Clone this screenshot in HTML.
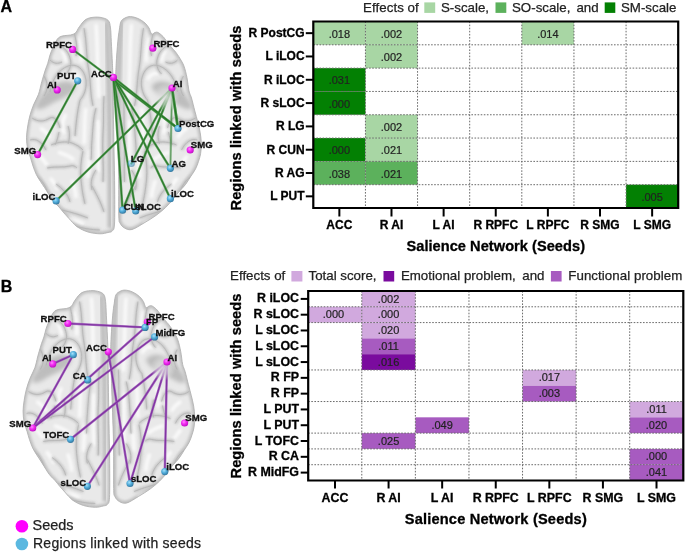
<!DOCTYPE html>
<html><head><meta charset="utf-8"><style>
html,body{margin:0;padding:0;background:#fff;}
svg{display:block;}
text{font-family:'Liberation Sans', Arial, sans-serif;}
.grid{stroke:#6a6a6a;stroke-width:1;stroke-dasharray:1.6 1.5;}
.val{font-size:11px;fill:#222;text-anchor:middle;stroke:#222;stroke-width:0.2px;}
.rl{font-size:12px;font-weight:bold;fill:#000;text-anchor:end;stroke:#000;stroke-width:0.3px;}
.cl{font-size:12px;font-weight:bold;fill:#000;text-anchor:middle;stroke:#000;stroke-width:0.3px;}
.ttl{font-size:14.6px;font-weight:bold;fill:#000;text-anchor:middle;stroke:#000;stroke-width:0.3px;}
.lg{font-size:13.3px;fill:#222;stroke:#222;stroke-width:0.25px;}
.nl{font-size:9.6px;font-weight:bold;fill:#111;stroke:#111;stroke-width:0.3px;}
.pl{font-size:16px;font-weight:bold;fill:#000;stroke:#000;stroke-width:0.3px;}
.bl{font-size:14px;fill:#222;stroke:#222;stroke-width:0.25px;}
</style></head><body>
<svg width="685" height="552" viewBox="0 0 685 552">
<defs>
<radialGradient id="bfill" cx="0.5" cy="0.5" r="0.6">
<stop offset="0" stop-color="#ececec"/><stop offset="0.7" stop-color="#e2e2e2"/><stop offset="1" stop-color="#cbcbcb"/>
</radialGradient>
<radialGradient id="mag" cx="0.4" cy="0.35" r="0.65">
<stop offset="0" stop-color="#ff8cff"/><stop offset="0.45" stop-color="#f42cf4"/><stop offset="1" stop-color="#c010c4"/>
</radialGradient>
<radialGradient id="blu" cx="0.4" cy="0.35" r="0.65">
<stop offset="0" stop-color="#a6e0f8"/><stop offset="0.5" stop-color="#52aedc"/><stop offset="1" stop-color="#3478a0"/>
</radialGradient>
<filter id="b3" x="-20%" y="-20%" width="140%" height="140%"><feGaussianBlur stdDeviation="3"/></filter>
<filter id="b15" x="-20%" y="-20%" width="140%" height="140%"><feGaussianBlur stdDeviation="1.5"/></filter>
<filter id="b2" x="-20%" y="-20%" width="140%" height="140%"><feGaussianBlur stdDeviation="2"/></filter>
<filter id="b12" x="-20%" y="-20%" width="140%" height="140%"><feGaussianBlur stdDeviation="1.2"/></filter>
<filter id="b06" x="-20%" y="-20%" width="140%" height="140%"><feGaussianBlur stdDeviation="0.6"/></filter>
<radialGradient id="fade" cx="0.5" cy="0.5" r="0.5"><stop offset="0" stop-color="#e4e4e4" stop-opacity="0.85"/><stop offset="0.55" stop-color="#e4e4e4" stop-opacity="0.55"/><stop offset="1" stop-color="#e4e4e4" stop-opacity="0"/></radialGradient>
</defs>
<rect width="685" height="552" fill="#fff"/>

<text x="0.4" y="11.8" class="pl">A</text>
<text x="0.8" y="292.3" class="pl">B</text>
<g transform="translate(0,0) translate(114,0) scale(1,1) translate(-114,0)">
<clipPath id="cla"><path d="M108.20,20.40 C106.45,18.62 102.87,17.77 100.00,17.30 C97.13,16.83 93.50,17.15 91.00,17.60 C88.50,18.05 86.67,18.85 85.00,20.00 C83.33,21.15 82.13,23.08 81.00,24.50 C79.87,25.92 79.12,27.08 78.20,28.50 C77.28,29.92 76.78,31.92 75.50,33.00 C74.22,34.08 72.33,34.57 70.50,35.00 C68.67,35.43 66.25,35.30 64.50,35.60 C62.75,35.90 61.25,36.15 60.00,36.80 C58.75,37.45 57.87,38.30 57.00,39.50 C56.13,40.70 55.57,42.42 54.80,44.00 C54.03,45.58 53.20,47.17 52.40,49.00 C51.60,50.83 50.78,52.58 50.00,55.00 C49.22,57.42 48.48,61.00 47.70,63.50 C46.92,66.00 46.03,67.83 45.30,70.00 C44.57,72.17 43.97,74.25 43.30,76.50 C42.63,78.75 42.10,80.53 41.30,83.50 C40.50,86.47 39.80,90.72 38.50,94.30 C37.20,97.88 34.95,101.38 33.50,105.00 C32.05,108.62 30.78,112.33 29.80,116.00 C28.82,119.67 28.15,123.37 27.60,127.00 C27.05,130.63 26.50,134.18 26.50,137.80 C26.50,141.42 26.92,145.33 27.60,148.70 C28.28,152.07 29.70,155.12 30.60,158.00 C31.50,160.88 32.05,163.25 33.00,166.00 C33.95,168.75 35.05,171.92 36.30,174.50 C37.55,177.08 39.13,179.33 40.50,181.50 C41.87,183.67 43.25,185.58 44.50,187.50 C45.75,189.42 46.78,191.08 48.00,193.00 C49.22,194.92 50.63,197.33 51.80,199.00 C52.97,200.67 53.80,201.67 55.00,203.00 C56.20,204.33 57.50,205.33 59.00,207.00 C60.50,208.67 62.33,211.08 64.00,213.00 C65.67,214.92 66.83,216.22 69.00,218.50 C71.17,220.78 73.83,224.45 77.00,226.70 C80.17,228.95 84.17,230.82 88.00,232.00 C91.83,233.18 96.67,233.72 100.00,233.80 C103.33,233.88 105.95,232.98 108.00,232.50 C110.05,232.02 111.22,232.32 112.30,230.90 C113.38,229.48 114.10,230.82 114.50,224.00 C114.90,217.18 114.78,202.33 114.70,190.00 C114.62,177.67 114.23,163.33 114.00,150.00 C113.77,136.67 113.47,121.67 113.30,110.00 C113.13,98.33 113.15,87.75 113.00,80.00 C112.85,72.25 112.68,69.88 112.40,63.50 C112.12,57.12 111.62,47.62 111.30,41.70 C110.98,35.78 111.02,31.55 110.50,28.00 C109.98,24.45 109.95,22.18 108.20,20.40 Z"/></clipPath><clipPath id="cra"><path d="M121.00,21.50 C121.95,19.50 123.43,18.82 125.00,18.00 C126.57,17.18 128.23,16.52 130.40,16.60 C132.57,16.68 135.57,17.43 138.00,18.50 C140.43,19.57 143.17,21.42 145.00,23.00 C146.83,24.58 147.90,26.17 149.00,28.00 C150.10,29.83 150.60,33.25 151.60,34.00 C152.60,34.75 153.93,32.75 155.00,32.50 C156.07,32.25 156.67,31.83 158.00,32.50 C159.33,33.17 161.27,34.65 163.00,36.50 C164.73,38.35 166.73,41.52 168.40,43.60 C170.07,45.68 171.83,47.65 173.00,49.00 C174.17,50.35 174.23,50.12 175.40,51.70 C176.57,53.28 178.57,56.08 180.00,58.50 C181.43,60.92 182.83,62.98 184.00,66.20 C185.17,69.42 186.17,73.68 187.00,77.80 C187.83,81.92 188.25,87.53 189.00,90.90 C189.75,94.27 190.53,94.67 191.50,98.00 C192.47,101.33 193.75,106.90 194.80,110.90 C195.85,114.90 196.90,118.38 197.80,122.00 C198.70,125.62 199.62,129.02 200.20,132.60 C200.78,136.18 201.23,139.98 201.30,143.50 C201.37,147.02 201.07,150.72 200.60,153.70 C200.13,156.68 199.35,158.85 198.50,161.40 C197.65,163.95 196.83,166.43 195.50,169.00 C194.17,171.57 192.17,174.22 190.50,176.80 C188.83,179.38 187.48,181.93 185.50,184.50 C183.52,187.07 180.78,189.62 178.60,192.20 C176.42,194.78 174.58,197.43 172.40,200.00 C170.22,202.57 168.20,205.05 165.50,207.60 C162.80,210.15 159.78,212.73 156.20,215.30 C152.62,217.87 148.03,220.63 144.00,223.00 C139.97,225.37 135.25,228.67 132.00,229.50 C128.75,230.33 126.50,229.08 124.50,228.00 C122.50,226.92 120.95,225.17 120.00,223.00 C119.05,220.83 119.03,223.83 118.80,215.00 C118.57,206.17 118.97,187.50 118.60,170.00 C118.23,152.50 117.07,125.00 116.60,110.00 C116.13,95.00 115.87,87.75 115.80,80.00 C115.73,72.25 115.87,69.88 116.20,63.50 C116.53,57.12 117.28,47.28 117.80,41.70 C118.32,36.12 118.77,33.37 119.30,30.00 C119.83,26.63 120.05,23.50 121.00,21.50 Z"/></clipPath>
<path d="M108.20,20.40 C106.45,18.62 102.87,17.77 100.00,17.30 C97.13,16.83 93.50,17.15 91.00,17.60 C88.50,18.05 86.67,18.85 85.00,20.00 C83.33,21.15 82.13,23.08 81.00,24.50 C79.87,25.92 79.12,27.08 78.20,28.50 C77.28,29.92 76.78,31.92 75.50,33.00 C74.22,34.08 72.33,34.57 70.50,35.00 C68.67,35.43 66.25,35.30 64.50,35.60 C62.75,35.90 61.25,36.15 60.00,36.80 C58.75,37.45 57.87,38.30 57.00,39.50 C56.13,40.70 55.57,42.42 54.80,44.00 C54.03,45.58 53.20,47.17 52.40,49.00 C51.60,50.83 50.78,52.58 50.00,55.00 C49.22,57.42 48.48,61.00 47.70,63.50 C46.92,66.00 46.03,67.83 45.30,70.00 C44.57,72.17 43.97,74.25 43.30,76.50 C42.63,78.75 42.10,80.53 41.30,83.50 C40.50,86.47 39.80,90.72 38.50,94.30 C37.20,97.88 34.95,101.38 33.50,105.00 C32.05,108.62 30.78,112.33 29.80,116.00 C28.82,119.67 28.15,123.37 27.60,127.00 C27.05,130.63 26.50,134.18 26.50,137.80 C26.50,141.42 26.92,145.33 27.60,148.70 C28.28,152.07 29.70,155.12 30.60,158.00 C31.50,160.88 32.05,163.25 33.00,166.00 C33.95,168.75 35.05,171.92 36.30,174.50 C37.55,177.08 39.13,179.33 40.50,181.50 C41.87,183.67 43.25,185.58 44.50,187.50 C45.75,189.42 46.78,191.08 48.00,193.00 C49.22,194.92 50.63,197.33 51.80,199.00 C52.97,200.67 53.80,201.67 55.00,203.00 C56.20,204.33 57.50,205.33 59.00,207.00 C60.50,208.67 62.33,211.08 64.00,213.00 C65.67,214.92 66.83,216.22 69.00,218.50 C71.17,220.78 73.83,224.45 77.00,226.70 C80.17,228.95 84.17,230.82 88.00,232.00 C91.83,233.18 96.67,233.72 100.00,233.80 C103.33,233.88 105.95,232.98 108.00,232.50 C110.05,232.02 111.22,232.32 112.30,230.90 C113.38,229.48 114.10,230.82 114.50,224.00 C114.90,217.18 114.78,202.33 114.70,190.00 C114.62,177.67 114.23,163.33 114.00,150.00 C113.77,136.67 113.47,121.67 113.30,110.00 C113.13,98.33 113.15,87.75 113.00,80.00 C112.85,72.25 112.68,69.88 112.40,63.50 C112.12,57.12 111.62,47.62 111.30,41.70 C110.98,35.78 111.02,31.55 110.50,28.00 C109.98,24.45 109.95,22.18 108.20,20.40 Z" fill="#e9e9e9"/>
<g clip-path="url(#cla)">
<path d="M108.20,20.40 C106.45,18.62 102.87,17.77 100.00,17.30 C97.13,16.83 93.50,17.15 91.00,17.60 C88.50,18.05 86.67,18.85 85.00,20.00 C83.33,21.15 82.13,23.08 81.00,24.50 C79.87,25.92 79.12,27.08 78.20,28.50 C77.28,29.92 76.78,31.92 75.50,33.00 C74.22,34.08 72.33,34.57 70.50,35.00 C68.67,35.43 66.25,35.30 64.50,35.60 C62.75,35.90 61.25,36.15 60.00,36.80 C58.75,37.45 57.87,38.30 57.00,39.50 C56.13,40.70 55.57,42.42 54.80,44.00 C54.03,45.58 53.20,47.17 52.40,49.00 C51.60,50.83 50.78,52.58 50.00,55.00 C49.22,57.42 48.48,61.00 47.70,63.50 C46.92,66.00 46.03,67.83 45.30,70.00 C44.57,72.17 43.97,74.25 43.30,76.50 C42.63,78.75 42.10,80.53 41.30,83.50 C40.50,86.47 39.80,90.72 38.50,94.30 C37.20,97.88 34.95,101.38 33.50,105.00 C32.05,108.62 30.78,112.33 29.80,116.00 C28.82,119.67 28.15,123.37 27.60,127.00 C27.05,130.63 26.50,134.18 26.50,137.80 C26.50,141.42 26.92,145.33 27.60,148.70 C28.28,152.07 29.70,155.12 30.60,158.00 C31.50,160.88 32.05,163.25 33.00,166.00 C33.95,168.75 35.05,171.92 36.30,174.50 C37.55,177.08 39.13,179.33 40.50,181.50 C41.87,183.67 43.25,185.58 44.50,187.50 C45.75,189.42 46.78,191.08 48.00,193.00 C49.22,194.92 50.63,197.33 51.80,199.00 C52.97,200.67 53.80,201.67 55.00,203.00 C56.20,204.33 57.50,205.33 59.00,207.00 C60.50,208.67 62.33,211.08 64.00,213.00 C65.67,214.92 66.83,216.22 69.00,218.50 C71.17,220.78 73.83,224.45 77.00,226.70 C80.17,228.95 84.17,230.82 88.00,232.00 C91.83,233.18 96.67,233.72 100.00,233.80 C103.33,233.88 105.95,232.98 108.00,232.50 C110.05,232.02 111.22,232.32 112.30,230.90 C113.38,229.48 114.10,230.82 114.50,224.00 C114.90,217.18 114.78,202.33 114.70,190.00 C114.62,177.67 114.23,163.33 114.00,150.00 C113.77,136.67 113.47,121.67 113.30,110.00 C113.13,98.33 113.15,87.75 113.00,80.00 C112.85,72.25 112.68,69.88 112.40,63.50 C112.12,57.12 111.62,47.62 111.30,41.70 C110.98,35.78 111.02,31.55 110.50,28.00 C109.98,24.45 109.95,22.18 108.20,20.40 Z" fill="none" stroke="#bcbcbc" stroke-width="4" filter="url(#b15)"/>
<g >
<path d="M35,108 C38,98 46,89 56,84 C63,80 72,80 76,86 C74,93 66,97 57,101 C48,105 42,112 35,108 Z" fill="#bdbdbd" filter="url(#b2)"/>
<path d="M106,22 C109,60 110,120 110,228" fill="none" stroke="#bfbfbf" stroke-width="5" filter="url(#b15)"/>
<g fill="none" stroke="#ffffff" stroke-width="3.2" opacity="0.85" filter="url(#b15)">
<path d="M96,24 C98,45 97,70 99,98"/>
<path d="M78,38 C80,46 82,54 81,62"/>
<path d="M62,50 C64,54 66,58 66,62"/>
<path d="M68,74 C72,72 78,74 80,80"/>
<path d="M86,108 C84,120 85,132 84,144"/>
<path d="M66,114 C62,120 62,128 64,134"/>
<path d="M40,128 C44,130 48,134 50,138"/>
<path d="M58,152 C64,154 70,156 74,160"/>
<path d="M40,156 C44,160 46,164 48,166"/>
<path d="M90,150 C89,160 88,170 88,178"/>
<path d="M50,178 C54,182 56,186 58,190"/>
<path d="M72,180 C74,186 76,192 76,198"/>
<path d="M68,218 C74,220 80,222 84,224"/>
<path d="M98,120 C99,140 98,160 99,172"/>
</g>
<g fill="none" stroke="#c2c2c2" stroke-width="3.4" opacity="0.85" filter="url(#b12)">
<path d="M84,28 C87,42 86,58 89,72 C91,84 90,94 93,106"/>
<path d="M74,32 C76,40 78,48 76,56"/>
<path d="M56,44 C62,46 68,50 70,58 C72,64 70,70 66,74"/>
<path d="M50,60 C54,64 58,64 62,62"/>
<path d="M50,92 C52,80 58,70 68,66 C76,63 84,68 86,80 C87,88 84,96 80,100"/>
<path d="M44,76 C48,82 48,90 44,96"/>
<path d="M80,100 C77,112 76,124 75,136"/>
<path d="M96,108 C93,118 93,128 92,140 C91,148 92,154 91,160"/>
<path d="M104,96 C103,110 104,122 103,134 C102,150 104,166 103,182"/>
<path d="M32,118 C38,122 44,122 50,118 C54,116 58,120 60,128"/>
<path d="M51,145 C58,142 66,141 72,143 C77,145 80,147 83,150"/>
<path d="M59,132 C58,137 57,141 55,145"/>
<path d="M30,140 C36,138 42,142 46,150"/>
<path d="M83,151 C81,160 80,170 81,180 C82,190 83,196 85,204"/>
<path d="M47,168 C55,166 63,168 70,166 C73,165 75,166 77,168"/>
<path d="M36,176 C42,180 46,186 48,194"/>
<path d="M56,184 C62,188 68,194 70,202"/>
<path d="M62,210 C70,212 78,214 88,218"/>
<path d="M92,186 C96,194 100,200 104,212"/>
<path d="M68,126 C70,132 70,138 68,144"/>
<path d="M96,170 C92,176 90,182 92,190"/>
<path d="M74,226 C82,228 92,230 100,230"/>
</g>
<g fill="none" stroke="#a9a9a9" stroke-width="0.9" opacity="0.6" filter="url(#b06)">
<path d="M84,28 C87,42 86,58 89,72 C91,84 90,94 93,106"/>
<path d="M74,32 C76,40 78,48 76,56"/>
<path d="M56,44 C62,46 68,50 70,58 C72,64 70,70 66,74"/>
<path d="M50,60 C54,64 58,64 62,62"/>
<path d="M50,92 C52,80 58,70 68,66 C76,63 84,68 86,80 C87,88 84,96 80,100"/>
<path d="M44,76 C48,82 48,90 44,96"/>
<path d="M80,100 C77,112 76,124 75,136"/>
<path d="M96,108 C93,118 93,128 92,140 C91,148 92,154 91,160"/>
<path d="M104,96 C103,110 104,122 103,134 C102,150 104,166 103,182"/>
<path d="M32,118 C38,122 44,122 50,118 C54,116 58,120 60,128"/>
<path d="M51,145 C58,142 66,141 72,143 C77,145 80,147 83,150"/>
<path d="M59,132 C58,137 57,141 55,145"/>
<path d="M30,140 C36,138 42,142 46,150"/>
<path d="M83,151 C81,160 80,170 81,180 C82,190 83,196 85,204"/>
<path d="M47,168 C55,166 63,168 70,166 C73,165 75,166 77,168"/>
<path d="M36,176 C42,180 46,186 48,194"/>
<path d="M56,184 C62,188 68,194 70,202"/>
<path d="M62,210 C70,212 78,214 88,218"/>
<path d="M92,186 C96,194 100,200 104,212"/>
<path d="M68,126 C70,132 70,138 68,144"/>
<path d="M96,170 C92,176 90,182 92,190"/>
<path d="M74,226 C82,228 92,230 100,230"/>
</g></g></g>
<path d="M108.20,20.40 C106.45,18.62 102.87,17.77 100.00,17.30 C97.13,16.83 93.50,17.15 91.00,17.60 C88.50,18.05 86.67,18.85 85.00,20.00 C83.33,21.15 82.13,23.08 81.00,24.50 C79.87,25.92 79.12,27.08 78.20,28.50 C77.28,29.92 76.78,31.92 75.50,33.00 C74.22,34.08 72.33,34.57 70.50,35.00 C68.67,35.43 66.25,35.30 64.50,35.60 C62.75,35.90 61.25,36.15 60.00,36.80 C58.75,37.45 57.87,38.30 57.00,39.50 C56.13,40.70 55.57,42.42 54.80,44.00 C54.03,45.58 53.20,47.17 52.40,49.00 C51.60,50.83 50.78,52.58 50.00,55.00 C49.22,57.42 48.48,61.00 47.70,63.50 C46.92,66.00 46.03,67.83 45.30,70.00 C44.57,72.17 43.97,74.25 43.30,76.50 C42.63,78.75 42.10,80.53 41.30,83.50 C40.50,86.47 39.80,90.72 38.50,94.30 C37.20,97.88 34.95,101.38 33.50,105.00 C32.05,108.62 30.78,112.33 29.80,116.00 C28.82,119.67 28.15,123.37 27.60,127.00 C27.05,130.63 26.50,134.18 26.50,137.80 C26.50,141.42 26.92,145.33 27.60,148.70 C28.28,152.07 29.70,155.12 30.60,158.00 C31.50,160.88 32.05,163.25 33.00,166.00 C33.95,168.75 35.05,171.92 36.30,174.50 C37.55,177.08 39.13,179.33 40.50,181.50 C41.87,183.67 43.25,185.58 44.50,187.50 C45.75,189.42 46.78,191.08 48.00,193.00 C49.22,194.92 50.63,197.33 51.80,199.00 C52.97,200.67 53.80,201.67 55.00,203.00 C56.20,204.33 57.50,205.33 59.00,207.00 C60.50,208.67 62.33,211.08 64.00,213.00 C65.67,214.92 66.83,216.22 69.00,218.50 C71.17,220.78 73.83,224.45 77.00,226.70 C80.17,228.95 84.17,230.82 88.00,232.00 C91.83,233.18 96.67,233.72 100.00,233.80 C103.33,233.88 105.95,232.98 108.00,232.50 C110.05,232.02 111.22,232.32 112.30,230.90 C113.38,229.48 114.10,230.82 114.50,224.00 C114.90,217.18 114.78,202.33 114.70,190.00 C114.62,177.67 114.23,163.33 114.00,150.00 C113.77,136.67 113.47,121.67 113.30,110.00 C113.13,98.33 113.15,87.75 113.00,80.00 C112.85,72.25 112.68,69.88 112.40,63.50 C112.12,57.12 111.62,47.62 111.30,41.70 C110.98,35.78 111.02,31.55 110.50,28.00 C109.98,24.45 109.95,22.18 108.20,20.40 Z" fill="none" stroke="#b4b4b4" stroke-width="0.9"/>
<path d="M121.00,21.50 C121.95,19.50 123.43,18.82 125.00,18.00 C126.57,17.18 128.23,16.52 130.40,16.60 C132.57,16.68 135.57,17.43 138.00,18.50 C140.43,19.57 143.17,21.42 145.00,23.00 C146.83,24.58 147.90,26.17 149.00,28.00 C150.10,29.83 150.60,33.25 151.60,34.00 C152.60,34.75 153.93,32.75 155.00,32.50 C156.07,32.25 156.67,31.83 158.00,32.50 C159.33,33.17 161.27,34.65 163.00,36.50 C164.73,38.35 166.73,41.52 168.40,43.60 C170.07,45.68 171.83,47.65 173.00,49.00 C174.17,50.35 174.23,50.12 175.40,51.70 C176.57,53.28 178.57,56.08 180.00,58.50 C181.43,60.92 182.83,62.98 184.00,66.20 C185.17,69.42 186.17,73.68 187.00,77.80 C187.83,81.92 188.25,87.53 189.00,90.90 C189.75,94.27 190.53,94.67 191.50,98.00 C192.47,101.33 193.75,106.90 194.80,110.90 C195.85,114.90 196.90,118.38 197.80,122.00 C198.70,125.62 199.62,129.02 200.20,132.60 C200.78,136.18 201.23,139.98 201.30,143.50 C201.37,147.02 201.07,150.72 200.60,153.70 C200.13,156.68 199.35,158.85 198.50,161.40 C197.65,163.95 196.83,166.43 195.50,169.00 C194.17,171.57 192.17,174.22 190.50,176.80 C188.83,179.38 187.48,181.93 185.50,184.50 C183.52,187.07 180.78,189.62 178.60,192.20 C176.42,194.78 174.58,197.43 172.40,200.00 C170.22,202.57 168.20,205.05 165.50,207.60 C162.80,210.15 159.78,212.73 156.20,215.30 C152.62,217.87 148.03,220.63 144.00,223.00 C139.97,225.37 135.25,228.67 132.00,229.50 C128.75,230.33 126.50,229.08 124.50,228.00 C122.50,226.92 120.95,225.17 120.00,223.00 C119.05,220.83 119.03,223.83 118.80,215.00 C118.57,206.17 118.97,187.50 118.60,170.00 C118.23,152.50 117.07,125.00 116.60,110.00 C116.13,95.00 115.87,87.75 115.80,80.00 C115.73,72.25 115.87,69.88 116.20,63.50 C116.53,57.12 117.28,47.28 117.80,41.70 C118.32,36.12 118.77,33.37 119.30,30.00 C119.83,26.63 120.05,23.50 121.00,21.50 Z" fill="#e9e9e9"/>
<g clip-path="url(#cra)">
<path d="M121.00,21.50 C121.95,19.50 123.43,18.82 125.00,18.00 C126.57,17.18 128.23,16.52 130.40,16.60 C132.57,16.68 135.57,17.43 138.00,18.50 C140.43,19.57 143.17,21.42 145.00,23.00 C146.83,24.58 147.90,26.17 149.00,28.00 C150.10,29.83 150.60,33.25 151.60,34.00 C152.60,34.75 153.93,32.75 155.00,32.50 C156.07,32.25 156.67,31.83 158.00,32.50 C159.33,33.17 161.27,34.65 163.00,36.50 C164.73,38.35 166.73,41.52 168.40,43.60 C170.07,45.68 171.83,47.65 173.00,49.00 C174.17,50.35 174.23,50.12 175.40,51.70 C176.57,53.28 178.57,56.08 180.00,58.50 C181.43,60.92 182.83,62.98 184.00,66.20 C185.17,69.42 186.17,73.68 187.00,77.80 C187.83,81.92 188.25,87.53 189.00,90.90 C189.75,94.27 190.53,94.67 191.50,98.00 C192.47,101.33 193.75,106.90 194.80,110.90 C195.85,114.90 196.90,118.38 197.80,122.00 C198.70,125.62 199.62,129.02 200.20,132.60 C200.78,136.18 201.23,139.98 201.30,143.50 C201.37,147.02 201.07,150.72 200.60,153.70 C200.13,156.68 199.35,158.85 198.50,161.40 C197.65,163.95 196.83,166.43 195.50,169.00 C194.17,171.57 192.17,174.22 190.50,176.80 C188.83,179.38 187.48,181.93 185.50,184.50 C183.52,187.07 180.78,189.62 178.60,192.20 C176.42,194.78 174.58,197.43 172.40,200.00 C170.22,202.57 168.20,205.05 165.50,207.60 C162.80,210.15 159.78,212.73 156.20,215.30 C152.62,217.87 148.03,220.63 144.00,223.00 C139.97,225.37 135.25,228.67 132.00,229.50 C128.75,230.33 126.50,229.08 124.50,228.00 C122.50,226.92 120.95,225.17 120.00,223.00 C119.05,220.83 119.03,223.83 118.80,215.00 C118.57,206.17 118.97,187.50 118.60,170.00 C118.23,152.50 117.07,125.00 116.60,110.00 C116.13,95.00 115.87,87.75 115.80,80.00 C115.73,72.25 115.87,69.88 116.20,63.50 C116.53,57.12 117.28,47.28 117.80,41.70 C118.32,36.12 118.77,33.37 119.30,30.00 C119.83,26.63 120.05,23.50 121.00,21.50 Z" fill="none" stroke="#bcbcbc" stroke-width="4" filter="url(#b15)"/>
<g transform="translate(227.5,0) scale(-1,1)">
<path d="M35,108 C38,98 46,89 56,84 C63,80 72,80 76,86 C74,93 66,97 57,101 C48,105 42,112 35,108 Z" fill="#bdbdbd" filter="url(#b2)"/>
<path d="M106,22 C109,60 110,120 110,228" fill="none" stroke="#bfbfbf" stroke-width="5" filter="url(#b15)"/>
<g fill="none" stroke="#ffffff" stroke-width="3.2" opacity="0.85" filter="url(#b15)">
<path d="M96,24 C98,45 97,70 99,98"/>
<path d="M78,38 C80,46 82,54 81,62"/>
<path d="M62,50 C64,54 66,58 66,62"/>
<path d="M68,74 C72,72 78,74 80,80"/>
<path d="M86,108 C84,120 85,132 84,144"/>
<path d="M66,114 C62,120 62,128 64,134"/>
<path d="M40,128 C44,130 48,134 50,138"/>
<path d="M58,152 C64,154 70,156 74,160"/>
<path d="M40,156 C44,160 46,164 48,166"/>
<path d="M90,150 C89,160 88,170 88,178"/>
<path d="M50,178 C54,182 56,186 58,190"/>
<path d="M72,180 C74,186 76,192 76,198"/>
<path d="M68,218 C74,220 80,222 84,224"/>
<path d="M98,120 C99,140 98,160 99,172"/>
</g>
<g fill="none" stroke="#c2c2c2" stroke-width="3.4" opacity="0.85" filter="url(#b12)">
<path d="M84,28 C87,42 86,58 89,72 C91,84 90,94 93,106"/>
<path d="M74,32 C76,40 78,48 76,56"/>
<path d="M56,44 C62,46 68,50 70,58 C72,64 70,70 66,74"/>
<path d="M50,60 C54,64 58,64 62,62"/>
<path d="M50,92 C52,80 58,70 68,66 C76,63 84,68 86,80 C87,88 84,96 80,100"/>
<path d="M44,76 C48,82 48,90 44,96"/>
<path d="M80,100 C77,112 76,124 75,136"/>
<path d="M96,108 C93,118 93,128 92,140 C91,148 92,154 91,160"/>
<path d="M104,96 C103,110 104,122 103,134 C102,150 104,166 103,182"/>
<path d="M32,118 C38,122 44,122 50,118 C54,116 58,120 60,128"/>
<path d="M51,145 C58,142 66,141 72,143 C77,145 80,147 83,150"/>
<path d="M59,132 C58,137 57,141 55,145"/>
<path d="M30,140 C36,138 42,142 46,150"/>
<path d="M83,151 C81,160 80,170 81,180 C82,190 83,196 85,204"/>
<path d="M47,168 C55,166 63,168 70,166 C73,165 75,166 77,168"/>
<path d="M36,176 C42,180 46,186 48,194"/>
<path d="M56,184 C62,188 68,194 70,202"/>
<path d="M62,210 C70,212 78,214 88,218"/>
<path d="M92,186 C96,194 100,200 104,212"/>
<path d="M68,126 C70,132 70,138 68,144"/>
<path d="M96,170 C92,176 90,182 92,190"/>
<path d="M74,226 C82,228 92,230 100,230"/>
</g>
<g fill="none" stroke="#a9a9a9" stroke-width="0.9" opacity="0.6" filter="url(#b06)">
<path d="M84,28 C87,42 86,58 89,72 C91,84 90,94 93,106"/>
<path d="M74,32 C76,40 78,48 76,56"/>
<path d="M56,44 C62,46 68,50 70,58 C72,64 70,70 66,74"/>
<path d="M50,60 C54,64 58,64 62,62"/>
<path d="M50,92 C52,80 58,70 68,66 C76,63 84,68 86,80 C87,88 84,96 80,100"/>
<path d="M44,76 C48,82 48,90 44,96"/>
<path d="M80,100 C77,112 76,124 75,136"/>
<path d="M96,108 C93,118 93,128 92,140 C91,148 92,154 91,160"/>
<path d="M104,96 C103,110 104,122 103,134 C102,150 104,166 103,182"/>
<path d="M32,118 C38,122 44,122 50,118 C54,116 58,120 60,128"/>
<path d="M51,145 C58,142 66,141 72,143 C77,145 80,147 83,150"/>
<path d="M59,132 C58,137 57,141 55,145"/>
<path d="M30,140 C36,138 42,142 46,150"/>
<path d="M83,151 C81,160 80,170 81,180 C82,190 83,196 85,204"/>
<path d="M47,168 C55,166 63,168 70,166 C73,165 75,166 77,168"/>
<path d="M36,176 C42,180 46,186 48,194"/>
<path d="M56,184 C62,188 68,194 70,202"/>
<path d="M62,210 C70,212 78,214 88,218"/>
<path d="M92,186 C96,194 100,200 104,212"/>
<path d="M68,126 C70,132 70,138 68,144"/>
<path d="M96,170 C92,176 90,182 92,190"/>
<path d="M74,226 C82,228 92,230 100,230"/>
</g></g></g>
<path d="M121.00,21.50 C121.95,19.50 123.43,18.82 125.00,18.00 C126.57,17.18 128.23,16.52 130.40,16.60 C132.57,16.68 135.57,17.43 138.00,18.50 C140.43,19.57 143.17,21.42 145.00,23.00 C146.83,24.58 147.90,26.17 149.00,28.00 C150.10,29.83 150.60,33.25 151.60,34.00 C152.60,34.75 153.93,32.75 155.00,32.50 C156.07,32.25 156.67,31.83 158.00,32.50 C159.33,33.17 161.27,34.65 163.00,36.50 C164.73,38.35 166.73,41.52 168.40,43.60 C170.07,45.68 171.83,47.65 173.00,49.00 C174.17,50.35 174.23,50.12 175.40,51.70 C176.57,53.28 178.57,56.08 180.00,58.50 C181.43,60.92 182.83,62.98 184.00,66.20 C185.17,69.42 186.17,73.68 187.00,77.80 C187.83,81.92 188.25,87.53 189.00,90.90 C189.75,94.27 190.53,94.67 191.50,98.00 C192.47,101.33 193.75,106.90 194.80,110.90 C195.85,114.90 196.90,118.38 197.80,122.00 C198.70,125.62 199.62,129.02 200.20,132.60 C200.78,136.18 201.23,139.98 201.30,143.50 C201.37,147.02 201.07,150.72 200.60,153.70 C200.13,156.68 199.35,158.85 198.50,161.40 C197.65,163.95 196.83,166.43 195.50,169.00 C194.17,171.57 192.17,174.22 190.50,176.80 C188.83,179.38 187.48,181.93 185.50,184.50 C183.52,187.07 180.78,189.62 178.60,192.20 C176.42,194.78 174.58,197.43 172.40,200.00 C170.22,202.57 168.20,205.05 165.50,207.60 C162.80,210.15 159.78,212.73 156.20,215.30 C152.62,217.87 148.03,220.63 144.00,223.00 C139.97,225.37 135.25,228.67 132.00,229.50 C128.75,230.33 126.50,229.08 124.50,228.00 C122.50,226.92 120.95,225.17 120.00,223.00 C119.05,220.83 119.03,223.83 118.80,215.00 C118.57,206.17 118.97,187.50 118.60,170.00 C118.23,152.50 117.07,125.00 116.60,110.00 C116.13,95.00 115.87,87.75 115.80,80.00 C115.73,72.25 115.87,69.88 116.20,63.50 C116.53,57.12 117.28,47.28 117.80,41.70 C118.32,36.12 118.77,33.37 119.30,30.00 C119.83,26.63 120.05,23.50 121.00,21.50 Z" fill="none" stroke="#b4b4b4" stroke-width="0.9"/>
</g>
<line x1="72.6" y1="49.4" x2="178.0" y2="128.5" stroke="#459545" stroke-width="2.4" stroke-linecap="round" opacity="0.82"/>
<line x1="72.6" y1="49.4" x2="178.0" y2="128.5" stroke="#1f6f1f" stroke-width="1.1" stroke-linecap="round" opacity="0.82"/>
<line x1="113.4" y1="77.4" x2="178.0" y2="128.5" stroke="#459545" stroke-width="2.4" stroke-linecap="round" opacity="0.82"/>
<line x1="113.4" y1="77.4" x2="178.0" y2="128.5" stroke="#1f6f1f" stroke-width="1.1" stroke-linecap="round" opacity="0.82"/>
<line x1="172.0" y1="88.0" x2="178.0" y2="128.5" stroke="#459545" stroke-width="2.4" stroke-linecap="round" opacity="0.82"/>
<line x1="172.0" y1="88.0" x2="178.0" y2="128.5" stroke="#1f6f1f" stroke-width="1.1" stroke-linecap="round" opacity="0.82"/>
<line x1="172.0" y1="88.0" x2="56.1" y2="200.9" stroke="#459545" stroke-width="2.4" stroke-linecap="round" opacity="0.82"/>
<line x1="172.0" y1="88.0" x2="56.1" y2="200.9" stroke="#1f6f1f" stroke-width="1.1" stroke-linecap="round" opacity="0.82"/>
<line x1="113.4" y1="77.4" x2="170.4" y2="198.7" stroke="#459545" stroke-width="2.4" stroke-linecap="round" opacity="0.82"/>
<line x1="113.4" y1="77.4" x2="170.4" y2="198.7" stroke="#1f6f1f" stroke-width="1.1" stroke-linecap="round" opacity="0.82"/>
<line x1="113.4" y1="77.4" x2="135.7" y2="210.9" stroke="#459545" stroke-width="2.4" stroke-linecap="round" opacity="0.82"/>
<line x1="113.4" y1="77.4" x2="135.7" y2="210.9" stroke="#1f6f1f" stroke-width="1.1" stroke-linecap="round" opacity="0.82"/>
<line x1="172.0" y1="88.0" x2="131.3" y2="163.5" stroke="#459545" stroke-width="2.4" stroke-linecap="round" opacity="0.82"/>
<line x1="172.0" y1="88.0" x2="131.3" y2="163.5" stroke="#1f6f1f" stroke-width="1.1" stroke-linecap="round" opacity="0.82"/>
<line x1="113.4" y1="77.4" x2="122.6" y2="210.2" stroke="#459545" stroke-width="2.4" stroke-linecap="round" opacity="0.82"/>
<line x1="113.4" y1="77.4" x2="122.6" y2="210.2" stroke="#1f6f1f" stroke-width="1.1" stroke-linecap="round" opacity="0.82"/>
<line x1="172.0" y1="88.0" x2="122.6" y2="210.2" stroke="#459545" stroke-width="2.4" stroke-linecap="round" opacity="0.82"/>
<line x1="172.0" y1="88.0" x2="122.6" y2="210.2" stroke="#1f6f1f" stroke-width="1.1" stroke-linecap="round" opacity="0.82"/>
<line x1="113.4" y1="77.4" x2="170.4" y2="168.3" stroke="#459545" stroke-width="2.4" stroke-linecap="round" opacity="0.82"/>
<line x1="113.4" y1="77.4" x2="170.4" y2="168.3" stroke="#1f6f1f" stroke-width="1.1" stroke-linecap="round" opacity="0.82"/>
<line x1="172.0" y1="88.0" x2="170.4" y2="168.3" stroke="#459545" stroke-width="2.4" stroke-linecap="round" opacity="0.45"/>
<line x1="172.0" y1="88.0" x2="170.4" y2="168.3" stroke="#1f6f1f" stroke-width="1.1" stroke-linecap="round" opacity="0.45"/>
<line x1="37.6" y1="154.6" x2="77.7" y2="80.8" stroke="#459545" stroke-width="2.4" stroke-linecap="round" opacity="0.82"/>
<line x1="37.6" y1="154.6" x2="77.7" y2="80.8" stroke="#1f6f1f" stroke-width="1.1" stroke-linecap="round" opacity="0.82"/>
<circle cx="166.0" cy="97.0" r="14.0" fill="url(#fade)"/>
<line x1="172.0" y1="88.0" x2="178.0" y2="128.5" stroke="#459545" stroke-width="2.8" stroke-linecap="round" opacity="0.82"/>
<line x1="172.0" y1="88.0" x2="178.0" y2="128.5" stroke="#1f6f1f" stroke-width="1.3" stroke-linecap="round" opacity="0.82"/>
<circle cx="72.6" cy="49.4" r="3.6" fill="url(#mag)" opacity="1"/>
<circle cx="113.4" cy="77.4" r="3.6" fill="url(#mag)" opacity="1"/>
<circle cx="57.2" cy="89.9" r="3.6" fill="url(#mag)" opacity="1"/>
<circle cx="37.6" cy="154.6" r="3.6" fill="url(#mag)" opacity="1"/>
<circle cx="152.8" cy="48.2" r="3.6" fill="url(#mag)" opacity="1"/>
<circle cx="172.0" cy="88.0" r="3.6" fill="url(#mag)" opacity="1"/>
<circle cx="190.2" cy="150.0" r="3.6" fill="url(#mag)" opacity="1"/>
<circle cx="77.7" cy="80.8" r="3.6" fill="url(#blu)" opacity="1"/>
<circle cx="178.0" cy="128.5" r="3.6" fill="url(#blu)" opacity="1"/>
<circle cx="131.3" cy="163.5" r="3.6" fill="url(#blu)" opacity="0.6"/>
<circle cx="170.4" cy="168.3" r="3.6" fill="url(#blu)" opacity="1"/>
<circle cx="170.4" cy="198.7" r="3.6" fill="url(#blu)" opacity="1"/>
<circle cx="122.6" cy="210.2" r="3.6" fill="url(#blu)" opacity="1"/>
<circle cx="135.7" cy="210.9" r="3.6" fill="url(#blu)" opacity="1"/>
<circle cx="56.1" cy="200.9" r="3.6" fill="url(#blu)" opacity="1"/>
<text x="72.0" y="48.2" class="nl" text-anchor="end">RPFC</text>
<text x="111.8" y="76.9" class="nl" text-anchor="end">ACC</text>
<text x="56.6" y="88.0" class="nl" text-anchor="end">AI</text>
<text x="36.2" y="153.7" class="nl" text-anchor="end">SMG</text>
<text x="153.4" y="46.5" class="nl" text-anchor="start">RPFC</text>
<text x="172.8" y="86.6" class="nl" text-anchor="start">AI</text>
<text x="190.8" y="148.3" class="nl" text-anchor="start">SMG</text>
<text x="76.2" y="78.6" class="nl" text-anchor="end">PUT</text>
<text x="179.1" y="127.4" class="nl" text-anchor="start">PostCG</text>
<text x="130.8" y="161.7" class="nl" text-anchor="start">LG</text>
<text x="171.5" y="166.7" class="nl" text-anchor="start">AG</text>
<text x="171.0" y="197.2" class="nl" text-anchor="start">iLOC</text>
<text x="123.7" y="209.6" class="nl" text-anchor="start">CUN</text>
<text x="161.0" y="209.6" class="nl" text-anchor="end">sLOC</text>
<text x="55.4" y="200.0" class="nl" text-anchor="end">iLOC</text>
<g transform="translate(-5,273.5) translate(114,0) scale(0.982,1) translate(-114,0)">
<clipPath id="clb"><path d="M108.20,20.40 C106.45,18.62 102.87,17.77 100.00,17.30 C97.13,16.83 93.50,17.15 91.00,17.60 C88.50,18.05 86.67,18.85 85.00,20.00 C83.33,21.15 82.13,23.08 81.00,24.50 C79.87,25.92 79.12,27.08 78.20,28.50 C77.28,29.92 76.78,31.92 75.50,33.00 C74.22,34.08 72.33,34.57 70.50,35.00 C68.67,35.43 66.25,35.30 64.50,35.60 C62.75,35.90 61.25,36.15 60.00,36.80 C58.75,37.45 57.87,38.30 57.00,39.50 C56.13,40.70 55.57,42.42 54.80,44.00 C54.03,45.58 53.20,47.17 52.40,49.00 C51.60,50.83 50.78,52.58 50.00,55.00 C49.22,57.42 48.48,61.00 47.70,63.50 C46.92,66.00 46.03,67.83 45.30,70.00 C44.57,72.17 43.97,74.25 43.30,76.50 C42.63,78.75 42.10,80.53 41.30,83.50 C40.50,86.47 39.80,90.72 38.50,94.30 C37.20,97.88 34.95,101.38 33.50,105.00 C32.05,108.62 30.78,112.33 29.80,116.00 C28.82,119.67 28.15,123.37 27.60,127.00 C27.05,130.63 26.50,134.18 26.50,137.80 C26.50,141.42 26.92,145.33 27.60,148.70 C28.28,152.07 29.70,155.12 30.60,158.00 C31.50,160.88 32.05,163.25 33.00,166.00 C33.95,168.75 35.05,171.92 36.30,174.50 C37.55,177.08 39.13,179.33 40.50,181.50 C41.87,183.67 43.25,185.58 44.50,187.50 C45.75,189.42 46.78,191.08 48.00,193.00 C49.22,194.92 50.63,197.33 51.80,199.00 C52.97,200.67 53.80,201.67 55.00,203.00 C56.20,204.33 57.50,205.33 59.00,207.00 C60.50,208.67 62.33,211.08 64.00,213.00 C65.67,214.92 66.83,216.22 69.00,218.50 C71.17,220.78 73.83,224.45 77.00,226.70 C80.17,228.95 84.17,230.82 88.00,232.00 C91.83,233.18 96.67,233.72 100.00,233.80 C103.33,233.88 105.95,232.98 108.00,232.50 C110.05,232.02 111.22,232.32 112.30,230.90 C113.38,229.48 114.10,230.82 114.50,224.00 C114.90,217.18 114.78,202.33 114.70,190.00 C114.62,177.67 114.23,163.33 114.00,150.00 C113.77,136.67 113.47,121.67 113.30,110.00 C113.13,98.33 113.15,87.75 113.00,80.00 C112.85,72.25 112.68,69.88 112.40,63.50 C112.12,57.12 111.62,47.62 111.30,41.70 C110.98,35.78 111.02,31.55 110.50,28.00 C109.98,24.45 109.95,22.18 108.20,20.40 Z"/></clipPath><clipPath id="crb"><path d="M121.00,21.50 C121.95,19.50 123.43,18.82 125.00,18.00 C126.57,17.18 128.23,16.52 130.40,16.60 C132.57,16.68 135.57,17.43 138.00,18.50 C140.43,19.57 143.17,21.42 145.00,23.00 C146.83,24.58 147.90,26.17 149.00,28.00 C150.10,29.83 150.60,33.25 151.60,34.00 C152.60,34.75 153.93,32.75 155.00,32.50 C156.07,32.25 156.67,31.83 158.00,32.50 C159.33,33.17 161.27,34.65 163.00,36.50 C164.73,38.35 166.73,41.52 168.40,43.60 C170.07,45.68 171.83,47.65 173.00,49.00 C174.17,50.35 174.23,50.12 175.40,51.70 C176.57,53.28 178.57,56.08 180.00,58.50 C181.43,60.92 182.83,62.98 184.00,66.20 C185.17,69.42 186.17,73.68 187.00,77.80 C187.83,81.92 188.25,87.53 189.00,90.90 C189.75,94.27 190.53,94.67 191.50,98.00 C192.47,101.33 193.75,106.90 194.80,110.90 C195.85,114.90 196.90,118.38 197.80,122.00 C198.70,125.62 199.62,129.02 200.20,132.60 C200.78,136.18 201.23,139.98 201.30,143.50 C201.37,147.02 201.07,150.72 200.60,153.70 C200.13,156.68 199.35,158.85 198.50,161.40 C197.65,163.95 196.83,166.43 195.50,169.00 C194.17,171.57 192.17,174.22 190.50,176.80 C188.83,179.38 187.48,181.93 185.50,184.50 C183.52,187.07 180.78,189.62 178.60,192.20 C176.42,194.78 174.58,197.43 172.40,200.00 C170.22,202.57 168.20,205.05 165.50,207.60 C162.80,210.15 159.78,212.73 156.20,215.30 C152.62,217.87 148.03,220.63 144.00,223.00 C139.97,225.37 135.25,228.67 132.00,229.50 C128.75,230.33 126.50,229.08 124.50,228.00 C122.50,226.92 120.95,225.17 120.00,223.00 C119.05,220.83 119.03,223.83 118.80,215.00 C118.57,206.17 118.97,187.50 118.60,170.00 C118.23,152.50 117.07,125.00 116.60,110.00 C116.13,95.00 115.87,87.75 115.80,80.00 C115.73,72.25 115.87,69.88 116.20,63.50 C116.53,57.12 117.28,47.28 117.80,41.70 C118.32,36.12 118.77,33.37 119.30,30.00 C119.83,26.63 120.05,23.50 121.00,21.50 Z"/></clipPath>
<path d="M108.20,20.40 C106.45,18.62 102.87,17.77 100.00,17.30 C97.13,16.83 93.50,17.15 91.00,17.60 C88.50,18.05 86.67,18.85 85.00,20.00 C83.33,21.15 82.13,23.08 81.00,24.50 C79.87,25.92 79.12,27.08 78.20,28.50 C77.28,29.92 76.78,31.92 75.50,33.00 C74.22,34.08 72.33,34.57 70.50,35.00 C68.67,35.43 66.25,35.30 64.50,35.60 C62.75,35.90 61.25,36.15 60.00,36.80 C58.75,37.45 57.87,38.30 57.00,39.50 C56.13,40.70 55.57,42.42 54.80,44.00 C54.03,45.58 53.20,47.17 52.40,49.00 C51.60,50.83 50.78,52.58 50.00,55.00 C49.22,57.42 48.48,61.00 47.70,63.50 C46.92,66.00 46.03,67.83 45.30,70.00 C44.57,72.17 43.97,74.25 43.30,76.50 C42.63,78.75 42.10,80.53 41.30,83.50 C40.50,86.47 39.80,90.72 38.50,94.30 C37.20,97.88 34.95,101.38 33.50,105.00 C32.05,108.62 30.78,112.33 29.80,116.00 C28.82,119.67 28.15,123.37 27.60,127.00 C27.05,130.63 26.50,134.18 26.50,137.80 C26.50,141.42 26.92,145.33 27.60,148.70 C28.28,152.07 29.70,155.12 30.60,158.00 C31.50,160.88 32.05,163.25 33.00,166.00 C33.95,168.75 35.05,171.92 36.30,174.50 C37.55,177.08 39.13,179.33 40.50,181.50 C41.87,183.67 43.25,185.58 44.50,187.50 C45.75,189.42 46.78,191.08 48.00,193.00 C49.22,194.92 50.63,197.33 51.80,199.00 C52.97,200.67 53.80,201.67 55.00,203.00 C56.20,204.33 57.50,205.33 59.00,207.00 C60.50,208.67 62.33,211.08 64.00,213.00 C65.67,214.92 66.83,216.22 69.00,218.50 C71.17,220.78 73.83,224.45 77.00,226.70 C80.17,228.95 84.17,230.82 88.00,232.00 C91.83,233.18 96.67,233.72 100.00,233.80 C103.33,233.88 105.95,232.98 108.00,232.50 C110.05,232.02 111.22,232.32 112.30,230.90 C113.38,229.48 114.10,230.82 114.50,224.00 C114.90,217.18 114.78,202.33 114.70,190.00 C114.62,177.67 114.23,163.33 114.00,150.00 C113.77,136.67 113.47,121.67 113.30,110.00 C113.13,98.33 113.15,87.75 113.00,80.00 C112.85,72.25 112.68,69.88 112.40,63.50 C112.12,57.12 111.62,47.62 111.30,41.70 C110.98,35.78 111.02,31.55 110.50,28.00 C109.98,24.45 109.95,22.18 108.20,20.40 Z" fill="#e9e9e9"/>
<g clip-path="url(#clb)">
<path d="M108.20,20.40 C106.45,18.62 102.87,17.77 100.00,17.30 C97.13,16.83 93.50,17.15 91.00,17.60 C88.50,18.05 86.67,18.85 85.00,20.00 C83.33,21.15 82.13,23.08 81.00,24.50 C79.87,25.92 79.12,27.08 78.20,28.50 C77.28,29.92 76.78,31.92 75.50,33.00 C74.22,34.08 72.33,34.57 70.50,35.00 C68.67,35.43 66.25,35.30 64.50,35.60 C62.75,35.90 61.25,36.15 60.00,36.80 C58.75,37.45 57.87,38.30 57.00,39.50 C56.13,40.70 55.57,42.42 54.80,44.00 C54.03,45.58 53.20,47.17 52.40,49.00 C51.60,50.83 50.78,52.58 50.00,55.00 C49.22,57.42 48.48,61.00 47.70,63.50 C46.92,66.00 46.03,67.83 45.30,70.00 C44.57,72.17 43.97,74.25 43.30,76.50 C42.63,78.75 42.10,80.53 41.30,83.50 C40.50,86.47 39.80,90.72 38.50,94.30 C37.20,97.88 34.95,101.38 33.50,105.00 C32.05,108.62 30.78,112.33 29.80,116.00 C28.82,119.67 28.15,123.37 27.60,127.00 C27.05,130.63 26.50,134.18 26.50,137.80 C26.50,141.42 26.92,145.33 27.60,148.70 C28.28,152.07 29.70,155.12 30.60,158.00 C31.50,160.88 32.05,163.25 33.00,166.00 C33.95,168.75 35.05,171.92 36.30,174.50 C37.55,177.08 39.13,179.33 40.50,181.50 C41.87,183.67 43.25,185.58 44.50,187.50 C45.75,189.42 46.78,191.08 48.00,193.00 C49.22,194.92 50.63,197.33 51.80,199.00 C52.97,200.67 53.80,201.67 55.00,203.00 C56.20,204.33 57.50,205.33 59.00,207.00 C60.50,208.67 62.33,211.08 64.00,213.00 C65.67,214.92 66.83,216.22 69.00,218.50 C71.17,220.78 73.83,224.45 77.00,226.70 C80.17,228.95 84.17,230.82 88.00,232.00 C91.83,233.18 96.67,233.72 100.00,233.80 C103.33,233.88 105.95,232.98 108.00,232.50 C110.05,232.02 111.22,232.32 112.30,230.90 C113.38,229.48 114.10,230.82 114.50,224.00 C114.90,217.18 114.78,202.33 114.70,190.00 C114.62,177.67 114.23,163.33 114.00,150.00 C113.77,136.67 113.47,121.67 113.30,110.00 C113.13,98.33 113.15,87.75 113.00,80.00 C112.85,72.25 112.68,69.88 112.40,63.50 C112.12,57.12 111.62,47.62 111.30,41.70 C110.98,35.78 111.02,31.55 110.50,28.00 C109.98,24.45 109.95,22.18 108.20,20.40 Z" fill="none" stroke="#bcbcbc" stroke-width="4" filter="url(#b15)"/>
<g >
<path d="M35,108 C38,98 46,89 56,84 C63,80 72,80 76,86 C74,93 66,97 57,101 C48,105 42,112 35,108 Z" fill="#bdbdbd" filter="url(#b2)"/>
<path d="M106,22 C109,60 110,120 110,228" fill="none" stroke="#bfbfbf" stroke-width="5" filter="url(#b15)"/>
<g fill="none" stroke="#ffffff" stroke-width="3.2" opacity="0.85" filter="url(#b15)">
<path d="M96,24 C98,45 97,70 99,98"/>
<path d="M78,38 C80,46 82,54 81,62"/>
<path d="M62,50 C64,54 66,58 66,62"/>
<path d="M68,74 C72,72 78,74 80,80"/>
<path d="M86,108 C84,120 85,132 84,144"/>
<path d="M66,114 C62,120 62,128 64,134"/>
<path d="M40,128 C44,130 48,134 50,138"/>
<path d="M58,152 C64,154 70,156 74,160"/>
<path d="M40,156 C44,160 46,164 48,166"/>
<path d="M90,150 C89,160 88,170 88,178"/>
<path d="M50,178 C54,182 56,186 58,190"/>
<path d="M72,180 C74,186 76,192 76,198"/>
<path d="M68,218 C74,220 80,222 84,224"/>
<path d="M98,120 C99,140 98,160 99,172"/>
</g>
<g fill="none" stroke="#c2c2c2" stroke-width="3.4" opacity="0.85" filter="url(#b12)">
<path d="M84,28 C87,42 86,58 89,72 C91,84 90,94 93,106"/>
<path d="M74,32 C76,40 78,48 76,56"/>
<path d="M56,44 C62,46 68,50 70,58 C72,64 70,70 66,74"/>
<path d="M50,60 C54,64 58,64 62,62"/>
<path d="M50,92 C52,80 58,70 68,66 C76,63 84,68 86,80 C87,88 84,96 80,100"/>
<path d="M44,76 C48,82 48,90 44,96"/>
<path d="M80,100 C77,112 76,124 75,136"/>
<path d="M96,108 C93,118 93,128 92,140 C91,148 92,154 91,160"/>
<path d="M104,96 C103,110 104,122 103,134 C102,150 104,166 103,182"/>
<path d="M32,118 C38,122 44,122 50,118 C54,116 58,120 60,128"/>
<path d="M51,145 C58,142 66,141 72,143 C77,145 80,147 83,150"/>
<path d="M59,132 C58,137 57,141 55,145"/>
<path d="M30,140 C36,138 42,142 46,150"/>
<path d="M83,151 C81,160 80,170 81,180 C82,190 83,196 85,204"/>
<path d="M47,168 C55,166 63,168 70,166 C73,165 75,166 77,168"/>
<path d="M36,176 C42,180 46,186 48,194"/>
<path d="M56,184 C62,188 68,194 70,202"/>
<path d="M62,210 C70,212 78,214 88,218"/>
<path d="M92,186 C96,194 100,200 104,212"/>
<path d="M68,126 C70,132 70,138 68,144"/>
<path d="M96,170 C92,176 90,182 92,190"/>
<path d="M74,226 C82,228 92,230 100,230"/>
</g>
<g fill="none" stroke="#a9a9a9" stroke-width="0.9" opacity="0.6" filter="url(#b06)">
<path d="M84,28 C87,42 86,58 89,72 C91,84 90,94 93,106"/>
<path d="M74,32 C76,40 78,48 76,56"/>
<path d="M56,44 C62,46 68,50 70,58 C72,64 70,70 66,74"/>
<path d="M50,60 C54,64 58,64 62,62"/>
<path d="M50,92 C52,80 58,70 68,66 C76,63 84,68 86,80 C87,88 84,96 80,100"/>
<path d="M44,76 C48,82 48,90 44,96"/>
<path d="M80,100 C77,112 76,124 75,136"/>
<path d="M96,108 C93,118 93,128 92,140 C91,148 92,154 91,160"/>
<path d="M104,96 C103,110 104,122 103,134 C102,150 104,166 103,182"/>
<path d="M32,118 C38,122 44,122 50,118 C54,116 58,120 60,128"/>
<path d="M51,145 C58,142 66,141 72,143 C77,145 80,147 83,150"/>
<path d="M59,132 C58,137 57,141 55,145"/>
<path d="M30,140 C36,138 42,142 46,150"/>
<path d="M83,151 C81,160 80,170 81,180 C82,190 83,196 85,204"/>
<path d="M47,168 C55,166 63,168 70,166 C73,165 75,166 77,168"/>
<path d="M36,176 C42,180 46,186 48,194"/>
<path d="M56,184 C62,188 68,194 70,202"/>
<path d="M62,210 C70,212 78,214 88,218"/>
<path d="M92,186 C96,194 100,200 104,212"/>
<path d="M68,126 C70,132 70,138 68,144"/>
<path d="M96,170 C92,176 90,182 92,190"/>
<path d="M74,226 C82,228 92,230 100,230"/>
</g></g></g>
<path d="M108.20,20.40 C106.45,18.62 102.87,17.77 100.00,17.30 C97.13,16.83 93.50,17.15 91.00,17.60 C88.50,18.05 86.67,18.85 85.00,20.00 C83.33,21.15 82.13,23.08 81.00,24.50 C79.87,25.92 79.12,27.08 78.20,28.50 C77.28,29.92 76.78,31.92 75.50,33.00 C74.22,34.08 72.33,34.57 70.50,35.00 C68.67,35.43 66.25,35.30 64.50,35.60 C62.75,35.90 61.25,36.15 60.00,36.80 C58.75,37.45 57.87,38.30 57.00,39.50 C56.13,40.70 55.57,42.42 54.80,44.00 C54.03,45.58 53.20,47.17 52.40,49.00 C51.60,50.83 50.78,52.58 50.00,55.00 C49.22,57.42 48.48,61.00 47.70,63.50 C46.92,66.00 46.03,67.83 45.30,70.00 C44.57,72.17 43.97,74.25 43.30,76.50 C42.63,78.75 42.10,80.53 41.30,83.50 C40.50,86.47 39.80,90.72 38.50,94.30 C37.20,97.88 34.95,101.38 33.50,105.00 C32.05,108.62 30.78,112.33 29.80,116.00 C28.82,119.67 28.15,123.37 27.60,127.00 C27.05,130.63 26.50,134.18 26.50,137.80 C26.50,141.42 26.92,145.33 27.60,148.70 C28.28,152.07 29.70,155.12 30.60,158.00 C31.50,160.88 32.05,163.25 33.00,166.00 C33.95,168.75 35.05,171.92 36.30,174.50 C37.55,177.08 39.13,179.33 40.50,181.50 C41.87,183.67 43.25,185.58 44.50,187.50 C45.75,189.42 46.78,191.08 48.00,193.00 C49.22,194.92 50.63,197.33 51.80,199.00 C52.97,200.67 53.80,201.67 55.00,203.00 C56.20,204.33 57.50,205.33 59.00,207.00 C60.50,208.67 62.33,211.08 64.00,213.00 C65.67,214.92 66.83,216.22 69.00,218.50 C71.17,220.78 73.83,224.45 77.00,226.70 C80.17,228.95 84.17,230.82 88.00,232.00 C91.83,233.18 96.67,233.72 100.00,233.80 C103.33,233.88 105.95,232.98 108.00,232.50 C110.05,232.02 111.22,232.32 112.30,230.90 C113.38,229.48 114.10,230.82 114.50,224.00 C114.90,217.18 114.78,202.33 114.70,190.00 C114.62,177.67 114.23,163.33 114.00,150.00 C113.77,136.67 113.47,121.67 113.30,110.00 C113.13,98.33 113.15,87.75 113.00,80.00 C112.85,72.25 112.68,69.88 112.40,63.50 C112.12,57.12 111.62,47.62 111.30,41.70 C110.98,35.78 111.02,31.55 110.50,28.00 C109.98,24.45 109.95,22.18 108.20,20.40 Z" fill="none" stroke="#b4b4b4" stroke-width="0.9"/>
<path d="M121.00,21.50 C121.95,19.50 123.43,18.82 125.00,18.00 C126.57,17.18 128.23,16.52 130.40,16.60 C132.57,16.68 135.57,17.43 138.00,18.50 C140.43,19.57 143.17,21.42 145.00,23.00 C146.83,24.58 147.90,26.17 149.00,28.00 C150.10,29.83 150.60,33.25 151.60,34.00 C152.60,34.75 153.93,32.75 155.00,32.50 C156.07,32.25 156.67,31.83 158.00,32.50 C159.33,33.17 161.27,34.65 163.00,36.50 C164.73,38.35 166.73,41.52 168.40,43.60 C170.07,45.68 171.83,47.65 173.00,49.00 C174.17,50.35 174.23,50.12 175.40,51.70 C176.57,53.28 178.57,56.08 180.00,58.50 C181.43,60.92 182.83,62.98 184.00,66.20 C185.17,69.42 186.17,73.68 187.00,77.80 C187.83,81.92 188.25,87.53 189.00,90.90 C189.75,94.27 190.53,94.67 191.50,98.00 C192.47,101.33 193.75,106.90 194.80,110.90 C195.85,114.90 196.90,118.38 197.80,122.00 C198.70,125.62 199.62,129.02 200.20,132.60 C200.78,136.18 201.23,139.98 201.30,143.50 C201.37,147.02 201.07,150.72 200.60,153.70 C200.13,156.68 199.35,158.85 198.50,161.40 C197.65,163.95 196.83,166.43 195.50,169.00 C194.17,171.57 192.17,174.22 190.50,176.80 C188.83,179.38 187.48,181.93 185.50,184.50 C183.52,187.07 180.78,189.62 178.60,192.20 C176.42,194.78 174.58,197.43 172.40,200.00 C170.22,202.57 168.20,205.05 165.50,207.60 C162.80,210.15 159.78,212.73 156.20,215.30 C152.62,217.87 148.03,220.63 144.00,223.00 C139.97,225.37 135.25,228.67 132.00,229.50 C128.75,230.33 126.50,229.08 124.50,228.00 C122.50,226.92 120.95,225.17 120.00,223.00 C119.05,220.83 119.03,223.83 118.80,215.00 C118.57,206.17 118.97,187.50 118.60,170.00 C118.23,152.50 117.07,125.00 116.60,110.00 C116.13,95.00 115.87,87.75 115.80,80.00 C115.73,72.25 115.87,69.88 116.20,63.50 C116.53,57.12 117.28,47.28 117.80,41.70 C118.32,36.12 118.77,33.37 119.30,30.00 C119.83,26.63 120.05,23.50 121.00,21.50 Z" fill="#e9e9e9"/>
<g clip-path="url(#crb)">
<path d="M121.00,21.50 C121.95,19.50 123.43,18.82 125.00,18.00 C126.57,17.18 128.23,16.52 130.40,16.60 C132.57,16.68 135.57,17.43 138.00,18.50 C140.43,19.57 143.17,21.42 145.00,23.00 C146.83,24.58 147.90,26.17 149.00,28.00 C150.10,29.83 150.60,33.25 151.60,34.00 C152.60,34.75 153.93,32.75 155.00,32.50 C156.07,32.25 156.67,31.83 158.00,32.50 C159.33,33.17 161.27,34.65 163.00,36.50 C164.73,38.35 166.73,41.52 168.40,43.60 C170.07,45.68 171.83,47.65 173.00,49.00 C174.17,50.35 174.23,50.12 175.40,51.70 C176.57,53.28 178.57,56.08 180.00,58.50 C181.43,60.92 182.83,62.98 184.00,66.20 C185.17,69.42 186.17,73.68 187.00,77.80 C187.83,81.92 188.25,87.53 189.00,90.90 C189.75,94.27 190.53,94.67 191.50,98.00 C192.47,101.33 193.75,106.90 194.80,110.90 C195.85,114.90 196.90,118.38 197.80,122.00 C198.70,125.62 199.62,129.02 200.20,132.60 C200.78,136.18 201.23,139.98 201.30,143.50 C201.37,147.02 201.07,150.72 200.60,153.70 C200.13,156.68 199.35,158.85 198.50,161.40 C197.65,163.95 196.83,166.43 195.50,169.00 C194.17,171.57 192.17,174.22 190.50,176.80 C188.83,179.38 187.48,181.93 185.50,184.50 C183.52,187.07 180.78,189.62 178.60,192.20 C176.42,194.78 174.58,197.43 172.40,200.00 C170.22,202.57 168.20,205.05 165.50,207.60 C162.80,210.15 159.78,212.73 156.20,215.30 C152.62,217.87 148.03,220.63 144.00,223.00 C139.97,225.37 135.25,228.67 132.00,229.50 C128.75,230.33 126.50,229.08 124.50,228.00 C122.50,226.92 120.95,225.17 120.00,223.00 C119.05,220.83 119.03,223.83 118.80,215.00 C118.57,206.17 118.97,187.50 118.60,170.00 C118.23,152.50 117.07,125.00 116.60,110.00 C116.13,95.00 115.87,87.75 115.80,80.00 C115.73,72.25 115.87,69.88 116.20,63.50 C116.53,57.12 117.28,47.28 117.80,41.70 C118.32,36.12 118.77,33.37 119.30,30.00 C119.83,26.63 120.05,23.50 121.00,21.50 Z" fill="none" stroke="#bcbcbc" stroke-width="4" filter="url(#b15)"/>
<g transform="translate(227.5,0) scale(-1,1)">
<path d="M35,108 C38,98 46,89 56,84 C63,80 72,80 76,86 C74,93 66,97 57,101 C48,105 42,112 35,108 Z" fill="#bdbdbd" filter="url(#b2)"/>
<path d="M106,22 C109,60 110,120 110,228" fill="none" stroke="#bfbfbf" stroke-width="5" filter="url(#b15)"/>
<g fill="none" stroke="#ffffff" stroke-width="3.2" opacity="0.85" filter="url(#b15)">
<path d="M96,24 C98,45 97,70 99,98"/>
<path d="M78,38 C80,46 82,54 81,62"/>
<path d="M62,50 C64,54 66,58 66,62"/>
<path d="M68,74 C72,72 78,74 80,80"/>
<path d="M86,108 C84,120 85,132 84,144"/>
<path d="M66,114 C62,120 62,128 64,134"/>
<path d="M40,128 C44,130 48,134 50,138"/>
<path d="M58,152 C64,154 70,156 74,160"/>
<path d="M40,156 C44,160 46,164 48,166"/>
<path d="M90,150 C89,160 88,170 88,178"/>
<path d="M50,178 C54,182 56,186 58,190"/>
<path d="M72,180 C74,186 76,192 76,198"/>
<path d="M68,218 C74,220 80,222 84,224"/>
<path d="M98,120 C99,140 98,160 99,172"/>
</g>
<g fill="none" stroke="#c2c2c2" stroke-width="3.4" opacity="0.85" filter="url(#b12)">
<path d="M84,28 C87,42 86,58 89,72 C91,84 90,94 93,106"/>
<path d="M74,32 C76,40 78,48 76,56"/>
<path d="M56,44 C62,46 68,50 70,58 C72,64 70,70 66,74"/>
<path d="M50,60 C54,64 58,64 62,62"/>
<path d="M50,92 C52,80 58,70 68,66 C76,63 84,68 86,80 C87,88 84,96 80,100"/>
<path d="M44,76 C48,82 48,90 44,96"/>
<path d="M80,100 C77,112 76,124 75,136"/>
<path d="M96,108 C93,118 93,128 92,140 C91,148 92,154 91,160"/>
<path d="M104,96 C103,110 104,122 103,134 C102,150 104,166 103,182"/>
<path d="M32,118 C38,122 44,122 50,118 C54,116 58,120 60,128"/>
<path d="M51,145 C58,142 66,141 72,143 C77,145 80,147 83,150"/>
<path d="M59,132 C58,137 57,141 55,145"/>
<path d="M30,140 C36,138 42,142 46,150"/>
<path d="M83,151 C81,160 80,170 81,180 C82,190 83,196 85,204"/>
<path d="M47,168 C55,166 63,168 70,166 C73,165 75,166 77,168"/>
<path d="M36,176 C42,180 46,186 48,194"/>
<path d="M56,184 C62,188 68,194 70,202"/>
<path d="M62,210 C70,212 78,214 88,218"/>
<path d="M92,186 C96,194 100,200 104,212"/>
<path d="M68,126 C70,132 70,138 68,144"/>
<path d="M96,170 C92,176 90,182 92,190"/>
<path d="M74,226 C82,228 92,230 100,230"/>
</g>
<g fill="none" stroke="#a9a9a9" stroke-width="0.9" opacity="0.6" filter="url(#b06)">
<path d="M84,28 C87,42 86,58 89,72 C91,84 90,94 93,106"/>
<path d="M74,32 C76,40 78,48 76,56"/>
<path d="M56,44 C62,46 68,50 70,58 C72,64 70,70 66,74"/>
<path d="M50,60 C54,64 58,64 62,62"/>
<path d="M50,92 C52,80 58,70 68,66 C76,63 84,68 86,80 C87,88 84,96 80,100"/>
<path d="M44,76 C48,82 48,90 44,96"/>
<path d="M80,100 C77,112 76,124 75,136"/>
<path d="M96,108 C93,118 93,128 92,140 C91,148 92,154 91,160"/>
<path d="M104,96 C103,110 104,122 103,134 C102,150 104,166 103,182"/>
<path d="M32,118 C38,122 44,122 50,118 C54,116 58,120 60,128"/>
<path d="M51,145 C58,142 66,141 72,143 C77,145 80,147 83,150"/>
<path d="M59,132 C58,137 57,141 55,145"/>
<path d="M30,140 C36,138 42,142 46,150"/>
<path d="M83,151 C81,160 80,170 81,180 C82,190 83,196 85,204"/>
<path d="M47,168 C55,166 63,168 70,166 C73,165 75,166 77,168"/>
<path d="M36,176 C42,180 46,186 48,194"/>
<path d="M56,184 C62,188 68,194 70,202"/>
<path d="M62,210 C70,212 78,214 88,218"/>
<path d="M92,186 C96,194 100,200 104,212"/>
<path d="M68,126 C70,132 70,138 68,144"/>
<path d="M96,170 C92,176 90,182 92,190"/>
<path d="M74,226 C82,228 92,230 100,230"/>
</g></g></g>
<path d="M121.00,21.50 C121.95,19.50 123.43,18.82 125.00,18.00 C126.57,17.18 128.23,16.52 130.40,16.60 C132.57,16.68 135.57,17.43 138.00,18.50 C140.43,19.57 143.17,21.42 145.00,23.00 C146.83,24.58 147.90,26.17 149.00,28.00 C150.10,29.83 150.60,33.25 151.60,34.00 C152.60,34.75 153.93,32.75 155.00,32.50 C156.07,32.25 156.67,31.83 158.00,32.50 C159.33,33.17 161.27,34.65 163.00,36.50 C164.73,38.35 166.73,41.52 168.40,43.60 C170.07,45.68 171.83,47.65 173.00,49.00 C174.17,50.35 174.23,50.12 175.40,51.70 C176.57,53.28 178.57,56.08 180.00,58.50 C181.43,60.92 182.83,62.98 184.00,66.20 C185.17,69.42 186.17,73.68 187.00,77.80 C187.83,81.92 188.25,87.53 189.00,90.90 C189.75,94.27 190.53,94.67 191.50,98.00 C192.47,101.33 193.75,106.90 194.80,110.90 C195.85,114.90 196.90,118.38 197.80,122.00 C198.70,125.62 199.62,129.02 200.20,132.60 C200.78,136.18 201.23,139.98 201.30,143.50 C201.37,147.02 201.07,150.72 200.60,153.70 C200.13,156.68 199.35,158.85 198.50,161.40 C197.65,163.95 196.83,166.43 195.50,169.00 C194.17,171.57 192.17,174.22 190.50,176.80 C188.83,179.38 187.48,181.93 185.50,184.50 C183.52,187.07 180.78,189.62 178.60,192.20 C176.42,194.78 174.58,197.43 172.40,200.00 C170.22,202.57 168.20,205.05 165.50,207.60 C162.80,210.15 159.78,212.73 156.20,215.30 C152.62,217.87 148.03,220.63 144.00,223.00 C139.97,225.37 135.25,228.67 132.00,229.50 C128.75,230.33 126.50,229.08 124.50,228.00 C122.50,226.92 120.95,225.17 120.00,223.00 C119.05,220.83 119.03,223.83 118.80,215.00 C118.57,206.17 118.97,187.50 118.60,170.00 C118.23,152.50 117.07,125.00 116.60,110.00 C116.13,95.00 115.87,87.75 115.80,80.00 C115.73,72.25 115.87,69.88 116.20,63.50 C116.53,57.12 117.28,47.28 117.80,41.70 C118.32,36.12 118.77,33.37 119.30,30.00 C119.83,26.63 120.05,23.50 121.00,21.50 Z" fill="none" stroke="#b4b4b4" stroke-width="0.9"/>
</g>
<line x1="67.9" y1="323.5" x2="145.1" y2="327.4" stroke="#9a52b8" stroke-width="2.4" stroke-linecap="round" opacity="0.85"/>
<line x1="67.9" y1="323.5" x2="145.1" y2="327.4" stroke="#7a2a9c" stroke-width="1.1" stroke-linecap="round" opacity="0.85"/>
<line x1="167.0" y1="362.0" x2="164.8" y2="471.6" stroke="#9a52b8" stroke-width="2.4" stroke-linecap="round" opacity="0.85"/>
<line x1="167.0" y1="362.0" x2="164.8" y2="471.6" stroke="#7a2a9c" stroke-width="1.1" stroke-linecap="round" opacity="0.85"/>
<line x1="108.3" y1="351.8" x2="130.0" y2="483.5" stroke="#9a52b8" stroke-width="2.4" stroke-linecap="round" opacity="0.85"/>
<line x1="108.3" y1="351.8" x2="130.0" y2="483.5" stroke="#7a2a9c" stroke-width="1.1" stroke-linecap="round" opacity="0.85"/>
<line x1="167.0" y1="362.0" x2="130.0" y2="483.5" stroke="#9a52b8" stroke-width="2.4" stroke-linecap="round" opacity="0.85"/>
<line x1="167.0" y1="362.0" x2="130.0" y2="483.5" stroke="#7a2a9c" stroke-width="1.1" stroke-linecap="round" opacity="0.85"/>
<line x1="167.0" y1="362.0" x2="87.4" y2="486.3" stroke="#9a52b8" stroke-width="2.4" stroke-linecap="round" opacity="0.85"/>
<line x1="167.0" y1="362.0" x2="87.4" y2="486.3" stroke="#7a2a9c" stroke-width="1.1" stroke-linecap="round" opacity="0.85"/>
<line x1="32.7" y1="428.0" x2="73.3" y2="354.7" stroke="#9a52b8" stroke-width="2.4" stroke-linecap="round" opacity="0.85"/>
<line x1="32.7" y1="428.0" x2="73.3" y2="354.7" stroke="#7a2a9c" stroke-width="1.1" stroke-linecap="round" opacity="0.85"/>
<line x1="52.7" y1="363.9" x2="73.3" y2="354.7" stroke="#9a52b8" stroke-width="2.4" stroke-linecap="round" opacity="0.85"/>
<line x1="52.7" y1="363.9" x2="73.3" y2="354.7" stroke="#7a2a9c" stroke-width="1.1" stroke-linecap="round" opacity="0.85"/>
<line x1="167.0" y1="362.0" x2="70.5" y2="439.3" stroke="#9a52b8" stroke-width="2.4" stroke-linecap="round" opacity="0.85"/>
<line x1="167.0" y1="362.0" x2="70.5" y2="439.3" stroke="#7a2a9c" stroke-width="1.1" stroke-linecap="round" opacity="0.85"/>
<line x1="32.7" y1="428.0" x2="145.1" y2="327.4" stroke="#9a52b8" stroke-width="2.4" stroke-linecap="round" opacity="0.85"/>
<line x1="32.7" y1="428.0" x2="145.1" y2="327.4" stroke="#7a2a9c" stroke-width="1.1" stroke-linecap="round" opacity="0.85"/>
<line x1="32.7" y1="428.0" x2="154.6" y2="336.9" stroke="#9a52b8" stroke-width="2.4" stroke-linecap="round" opacity="0.85"/>
<line x1="32.7" y1="428.0" x2="154.6" y2="336.9" stroke="#7a2a9c" stroke-width="1.1" stroke-linecap="round" opacity="0.85"/>
<circle cx="163.0" cy="368.0" r="13.0" fill="url(#fade)"/>
<circle cx="67.9" cy="323.5" r="3.6" fill="url(#mag)" opacity="1"/>
<circle cx="73.3" cy="354.7" r="3.6" fill="url(#blu)" opacity="1"/>
<circle cx="108.3" cy="351.8" r="3.6" fill="url(#mag)" opacity="1"/>
<circle cx="52.7" cy="363.9" r="3.6" fill="url(#mag)" opacity="1"/>
<circle cx="87.7" cy="379.9" r="3.6" fill="url(#blu)" opacity="1"/>
<circle cx="32.7" cy="428.0" r="3.6" fill="url(#mag)" opacity="1"/>
<circle cx="70.5" cy="439.3" r="3.6" fill="url(#blu)" opacity="1"/>
<circle cx="87.4" cy="486.3" r="3.6" fill="url(#blu)" opacity="1"/>
<circle cx="147.3" cy="322.0" r="3.6" fill="url(#mag)" opacity="1"/>
<circle cx="145.1" cy="327.4" r="3.6" fill="url(#blu)" opacity="1"/>
<circle cx="154.6" cy="336.9" r="3.6" fill="url(#blu)" opacity="1"/>
<circle cx="167.0" cy="362.0" r="3.6" fill="url(#mag)" opacity="1"/>
<circle cx="184.6" cy="423.0" r="3.6" fill="url(#mag)" opacity="1"/>
<circle cx="130.0" cy="483.5" r="3.6" fill="url(#blu)" opacity="1"/>
<circle cx="164.8" cy="471.6" r="3.6" fill="url(#blu)" opacity="1"/>
<text x="66.7" y="322.0" class="nl" text-anchor="end">RPFC</text>
<text x="71.8" y="353.0" class="nl" text-anchor="end">PUT</text>
<text x="106.9" y="350.8" class="nl" text-anchor="end">ACC</text>
<text x="51.5" y="361.4" class="nl" text-anchor="end">AI</text>
<text x="86.5" y="378.5" class="nl" text-anchor="end">CA</text>
<text x="31.2" y="426.5" class="nl" text-anchor="end">SMG</text>
<text x="69.2" y="437.7" class="nl" text-anchor="end">TOFC</text>
<text x="86.2" y="485.5" class="nl" text-anchor="end">sLOC</text>
<text x="148.5" y="320.1" class="nl" text-anchor="start">RPFC</text>
<text x="145.9" y="325.3" class="nl" text-anchor="start">FP</text>
<text x="155.4" y="335.8" class="nl" text-anchor="start">MidFG</text>
<text x="167.5" y="360.5" class="nl" text-anchor="start">AI</text>
<text x="185.3" y="421.2" class="nl" text-anchor="start">SMG</text>
<text x="130.9" y="482.4" class="nl" text-anchor="start">sLOC</text>
<text x="166.3" y="470.1" class="nl" text-anchor="start">iLOC</text>
<circle cx="21.9" cy="526.3" r="6.3" fill="#f0f"/>
<circle cx="21.9" cy="544.0" r="6.3" fill="#5bb8e0"/>
<text x="32.6" y="530.3" class="bl" textLength="41" lengthAdjust="spacingAndGlyphs">Seeds</text>
<text x="33" y="548.3" class="bl" textLength="168" lengthAdjust="spacing">Regions linked with seeds</text>
<rect x="313.30" y="21.50" width="52.13" height="23.31" fill="#a8d6a4"/>
<rect x="365.43" y="21.50" width="52.13" height="23.31" fill="#a8d6a4"/>
<rect x="521.81" y="21.50" width="52.13" height="23.31" fill="#a8d6a4"/>
<rect x="365.43" y="44.81" width="52.13" height="23.31" fill="#a8d6a4"/>
<rect x="313.30" y="68.12" width="52.13" height="23.31" fill="#038003"/>
<rect x="313.30" y="91.44" width="52.13" height="23.31" fill="#038003"/>
<rect x="365.43" y="114.75" width="52.13" height="23.31" fill="#a8d6a4"/>
<rect x="313.30" y="138.06" width="52.13" height="23.31" fill="#038003"/>
<rect x="365.43" y="138.06" width="52.13" height="23.31" fill="#a8d6a4"/>
<rect x="313.30" y="161.38" width="52.13" height="23.31" fill="#5cb15c"/>
<rect x="365.43" y="161.38" width="52.13" height="23.31" fill="#5cb15c"/>
<rect x="626.07" y="184.69" width="52.13" height="23.31" fill="#038003"/>
<line x1="313.30" y1="44.81" x2="678.20" y2="44.81" class="grid"/>
<line x1="313.30" y1="68.12" x2="678.20" y2="68.12" class="grid"/>
<line x1="313.30" y1="91.44" x2="678.20" y2="91.44" class="grid"/>
<line x1="313.30" y1="114.75" x2="678.20" y2="114.75" class="grid"/>
<line x1="313.30" y1="138.06" x2="678.20" y2="138.06" class="grid"/>
<line x1="313.30" y1="161.38" x2="678.20" y2="161.38" class="grid"/>
<line x1="313.30" y1="184.69" x2="678.20" y2="184.69" class="grid"/>
<line x1="365.43" y1="21.50" x2="365.43" y2="208.00" class="grid"/>
<line x1="417.56" y1="21.50" x2="417.56" y2="208.00" class="grid"/>
<line x1="469.69" y1="21.50" x2="469.69" y2="208.00" class="grid"/>
<line x1="521.81" y1="21.50" x2="521.81" y2="208.00" class="grid"/>
<line x1="573.94" y1="21.50" x2="573.94" y2="208.00" class="grid"/>
<line x1="626.07" y1="21.50" x2="626.07" y2="208.00" class="grid"/>
<text x="339.36" y="37.66" class="val">.018</text>
<text x="391.49" y="37.66" class="val">.002</text>
<text x="547.88" y="37.66" class="val">.014</text>
<text x="391.49" y="60.97" class="val">.002</text>
<text x="339.36" y="84.28" class="val">.031</text>
<text x="339.36" y="107.59" class="val">.000</text>
<text x="391.49" y="130.91" class="val">.002</text>
<text x="339.36" y="154.22" class="val">.000</text>
<text x="391.49" y="154.22" class="val">.021</text>
<text x="339.36" y="177.53" class="val">.038</text>
<text x="391.49" y="177.53" class="val">.021</text>
<text x="652.14" y="200.84" class="val">.005</text>
<path d="M313.30,21.50 H678.20 V208.00 H313.30 Z" fill="none" stroke="#000" stroke-width="2.2"/>
<line x1="305.80" y1="33.16" x2="313.30" y2="33.16" stroke="#000" stroke-width="2"/>
<text x="304.60" y="36.96" class="rl" style="font-size:12px">R PostCG</text>
<line x1="305.80" y1="56.47" x2="313.30" y2="56.47" stroke="#000" stroke-width="2"/>
<text x="304.60" y="60.27" class="rl" style="font-size:12px">L iLOC</text>
<line x1="305.80" y1="79.78" x2="313.30" y2="79.78" stroke="#000" stroke-width="2"/>
<text x="304.60" y="83.58" class="rl" style="font-size:12px">R iLOC</text>
<line x1="305.80" y1="103.09" x2="313.30" y2="103.09" stroke="#000" stroke-width="2"/>
<text x="304.60" y="106.89" class="rl" style="font-size:12px">R sLOC</text>
<line x1="305.80" y1="126.41" x2="313.30" y2="126.41" stroke="#000" stroke-width="2"/>
<text x="304.60" y="130.21" class="rl" style="font-size:12px">R LG</text>
<line x1="305.80" y1="149.72" x2="313.30" y2="149.72" stroke="#000" stroke-width="2"/>
<text x="304.60" y="153.52" class="rl" style="font-size:12px">R CUN</text>
<line x1="305.80" y1="173.03" x2="313.30" y2="173.03" stroke="#000" stroke-width="2"/>
<text x="304.60" y="176.83" class="rl" style="font-size:12px">R AG</text>
<line x1="305.80" y1="196.34" x2="313.30" y2="196.34" stroke="#000" stroke-width="2"/>
<text x="304.60" y="200.14" class="rl" style="font-size:12px">L PUT</text>
<line x1="339.36" y1="208.00" x2="339.36" y2="216.50" stroke="#000" stroke-width="2"/>
<text x="339.36" y="229.30" class="cl" style="font-size:12px">ACC</text>
<line x1="391.49" y1="208.00" x2="391.49" y2="216.50" stroke="#000" stroke-width="2"/>
<text x="391.49" y="229.30" class="cl" style="font-size:12px">R AI</text>
<line x1="443.62" y1="208.00" x2="443.62" y2="216.50" stroke="#000" stroke-width="2"/>
<text x="443.62" y="229.30" class="cl" style="font-size:12px">L AI</text>
<line x1="495.75" y1="208.00" x2="495.75" y2="216.50" stroke="#000" stroke-width="2"/>
<text x="495.75" y="229.30" class="cl" style="font-size:12px">R RPFC</text>
<line x1="547.88" y1="208.00" x2="547.88" y2="216.50" stroke="#000" stroke-width="2"/>
<text x="547.88" y="229.30" class="cl" style="font-size:12px">L RPFC</text>
<line x1="600.01" y1="208.00" x2="600.01" y2="216.50" stroke="#000" stroke-width="2"/>
<text x="600.01" y="229.30" class="cl" style="font-size:12px">R SMG</text>
<line x1="652.14" y1="208.00" x2="652.14" y2="216.50" stroke="#000" stroke-width="2"/>
<text x="652.14" y="229.30" class="cl" style="font-size:12px">L SMG</text>
<text x="495.75" y="251.10" class="ttl" textLength="178.5" lengthAdjust="spacing">Salience Network (Seeds)</text>
<text transform="translate(240.50,118.00) rotate(-90)" x="0" y="0" class="ttl" textLength="185" lengthAdjust="spacing">Regions linked with seeds</text>
<rect x="361.79" y="291.00" width="53.59" height="15.79" fill="#d1a9de"/>
<rect x="308.20" y="306.79" width="53.59" height="15.79" fill="#d1a9de"/>
<rect x="361.79" y="306.79" width="53.59" height="15.79" fill="#d1a9de"/>
<rect x="361.79" y="322.58" width="53.59" height="15.79" fill="#d1a9de"/>
<rect x="361.79" y="338.38" width="53.59" height="15.79" fill="#a75bc0"/>
<rect x="361.79" y="354.17" width="53.59" height="15.79" fill="#7a0b9e"/>
<rect x="522.54" y="369.96" width="53.59" height="15.79" fill="#d1a9de"/>
<rect x="522.54" y="385.75" width="53.59" height="15.79" fill="#a75bc0"/>
<rect x="629.71" y="401.54" width="53.59" height="15.79" fill="#d1a9de"/>
<rect x="415.37" y="417.33" width="53.59" height="15.79" fill="#a75bc0"/>
<rect x="629.71" y="417.33" width="53.59" height="15.79" fill="#a75bc0"/>
<rect x="361.79" y="433.12" width="53.59" height="15.79" fill="#a75bc0"/>
<rect x="629.71" y="448.92" width="53.59" height="15.79" fill="#a75bc0"/>
<rect x="629.71" y="464.71" width="53.59" height="15.79" fill="#a75bc0"/>
<line x1="308.20" y1="306.79" x2="683.30" y2="306.79" class="grid"/>
<line x1="308.20" y1="322.58" x2="683.30" y2="322.58" class="grid"/>
<line x1="308.20" y1="369.96" x2="683.30" y2="369.96" class="grid"/>
<line x1="308.20" y1="401.54" x2="683.30" y2="401.54" class="grid"/>
<line x1="308.20" y1="433.12" x2="683.30" y2="433.12" class="grid"/>
<line x1="308.20" y1="448.92" x2="683.30" y2="448.92" class="grid"/>
<line x1="308.20" y1="464.71" x2="683.30" y2="464.71" class="grid"/>
<line x1="361.79" y1="291.00" x2="361.79" y2="480.50" class="grid"/>
<line x1="415.37" y1="291.00" x2="415.37" y2="480.50" class="grid"/>
<line x1="468.96" y1="291.00" x2="468.96" y2="480.50" class="grid"/>
<line x1="522.54" y1="291.00" x2="522.54" y2="480.50" class="grid"/>
<line x1="576.13" y1="291.00" x2="576.13" y2="480.50" class="grid"/>
<line x1="629.71" y1="291.00" x2="629.71" y2="480.50" class="grid"/>
<text x="388.58" y="302.50" class="val">.002</text>
<text x="333.49" y="318.29" class="val">.000</text>
<text x="388.58" y="318.29" class="val">.000</text>
<text x="388.58" y="334.08" class="val">.020</text>
<text x="388.58" y="349.87" class="val">.011</text>
<text x="388.58" y="365.66" class="val">.016</text>
<text x="549.34" y="381.45" class="val">.017</text>
<text x="549.34" y="397.25" class="val">.003</text>
<text x="656.51" y="413.04" class="val">.011</text>
<text x="442.16" y="428.83" class="val">.049</text>
<text x="656.51" y="428.83" class="val">.020</text>
<text x="388.58" y="444.62" class="val">.025</text>
<text x="656.51" y="460.41" class="val">.000</text>
<text x="656.51" y="476.20" class="val">.041</text>
<path d="M308.20,291.00 H683.30 V480.50 H308.20 Z" fill="none" stroke="#000" stroke-width="2.2"/>
<line x1="300.70" y1="298.90" x2="308.20" y2="298.90" stroke="#000" stroke-width="2"/>
<text x="299.00" y="302.40" class="rl" style="font-size:12.4px">R iLOC</text>
<line x1="300.70" y1="314.69" x2="308.20" y2="314.69" stroke="#000" stroke-width="2"/>
<text x="299.00" y="318.19" class="rl" style="font-size:12.4px">R sLOC</text>
<line x1="300.70" y1="330.48" x2="308.20" y2="330.48" stroke="#000" stroke-width="2"/>
<text x="299.00" y="333.98" class="rl" style="font-size:12.4px">L sLOC</text>
<line x1="300.70" y1="346.27" x2="308.20" y2="346.27" stroke="#000" stroke-width="2"/>
<text x="299.00" y="349.77" class="rl" style="font-size:12.4px">L sLOC</text>
<line x1="300.70" y1="362.06" x2="308.20" y2="362.06" stroke="#000" stroke-width="2"/>
<text x="299.00" y="365.56" class="rl" style="font-size:12.4px">L sLOC</text>
<line x1="300.70" y1="377.85" x2="308.20" y2="377.85" stroke="#000" stroke-width="2"/>
<text x="299.00" y="381.35" class="rl" style="font-size:12.4px">R FP</text>
<line x1="300.70" y1="393.65" x2="308.20" y2="393.65" stroke="#000" stroke-width="2"/>
<text x="299.00" y="397.15" class="rl" style="font-size:12.4px">R FP</text>
<line x1="300.70" y1="409.44" x2="308.20" y2="409.44" stroke="#000" stroke-width="2"/>
<text x="299.00" y="412.94" class="rl" style="font-size:12.4px">L PUT</text>
<line x1="300.70" y1="425.23" x2="308.20" y2="425.23" stroke="#000" stroke-width="2"/>
<text x="299.00" y="428.73" class="rl" style="font-size:12.4px">L PUT</text>
<line x1="300.70" y1="441.02" x2="308.20" y2="441.02" stroke="#000" stroke-width="2"/>
<text x="299.00" y="444.52" class="rl" style="font-size:12.4px">L TOFC</text>
<line x1="300.70" y1="456.81" x2="308.20" y2="456.81" stroke="#000" stroke-width="2"/>
<text x="299.00" y="460.31" class="rl" style="font-size:12.4px">R CA</text>
<line x1="300.70" y1="472.60" x2="308.20" y2="472.60" stroke="#000" stroke-width="2"/>
<text x="299.00" y="476.10" class="rl" style="font-size:12.4px">R MidFG</text>
<line x1="334.99" y1="480.50" x2="334.99" y2="488.50" stroke="#000" stroke-width="2"/>
<text x="334.99" y="502.20" class="cl" style="font-size:12.4px">ACC</text>
<line x1="388.58" y1="480.50" x2="388.58" y2="488.50" stroke="#000" stroke-width="2"/>
<text x="388.58" y="502.20" class="cl" style="font-size:12.4px">R AI</text>
<line x1="442.16" y1="480.50" x2="442.16" y2="488.50" stroke="#000" stroke-width="2"/>
<text x="442.16" y="502.20" class="cl" style="font-size:12.4px">L AI</text>
<line x1="495.75" y1="480.50" x2="495.75" y2="488.50" stroke="#000" stroke-width="2"/>
<text x="495.75" y="502.20" class="cl" style="font-size:12.4px">R RPFC</text>
<line x1="549.34" y1="480.50" x2="549.34" y2="488.50" stroke="#000" stroke-width="2"/>
<text x="549.34" y="502.20" class="cl" style="font-size:12.4px">L RPFC</text>
<line x1="602.92" y1="480.50" x2="602.92" y2="488.50" stroke="#000" stroke-width="2"/>
<text x="602.92" y="502.20" class="cl" style="font-size:12.4px">R SMG</text>
<line x1="656.51" y1="480.50" x2="656.51" y2="488.50" stroke="#000" stroke-width="2"/>
<text x="656.51" y="502.20" class="cl" style="font-size:12.4px">L SMG</text>
<text x="495.75" y="524.00" class="ttl" textLength="182" lengthAdjust="spacing">Salience Network (Seeds)</text>
<text transform="translate(240.50,386.00) rotate(-90)" x="0" y="0" class="ttl" textLength="185" lengthAdjust="spacing">Regions linked with seeds</text>
<text x="363.1" y="11.6" class="lg" textLength="55.6" lengthAdjust="spacing">Effects of</text>
<rect x="424.3" y="2.4" width="10.9" height="10.5" fill="#a8d6a4"/>
<text x="441.0" y="11.6" class="lg">S-scale,</text>
<rect x="495.5" y="2.4" width="10.8" height="10.5" fill="#5cb15c"/>
<text x="512.0" y="11.6" class="lg">SO-scale,</text>
<text x="576.4" y="11.6" class="lg">and</text>
<rect x="604.7" y="2.4" width="10.6" height="10.5" fill="#038003"/>
<text x="621.0" y="11.6" class="lg">SM-scale</text>
<text x="230.1" y="280.2" class="lg" textLength="55.2" lengthAdjust="spacing">Effects of</text>
<rect x="291.4" y="271.0" width="11.0" height="10.5" fill="#d1a9de"/>
<text x="308.5" y="280.2" class="lg">Total score,</text>
<rect x="383.5" y="271.0" width="10.7" height="10.5" fill="#7a0b9e"/>
<text x="400.9" y="280.2" class="lg" textLength="114.9" lengthAdjust="spacing">Emotional problem,</text>
<text x="522.3" y="280.2" class="lg">and</text>
<rect x="550.9" y="271.0" width="10.7" height="10.5" fill="#a75bc0"/>
<text x="568.3" y="280.2" class="lg" textLength="114.0" lengthAdjust="spacing">Functional problem</text>
</svg></body></html>
